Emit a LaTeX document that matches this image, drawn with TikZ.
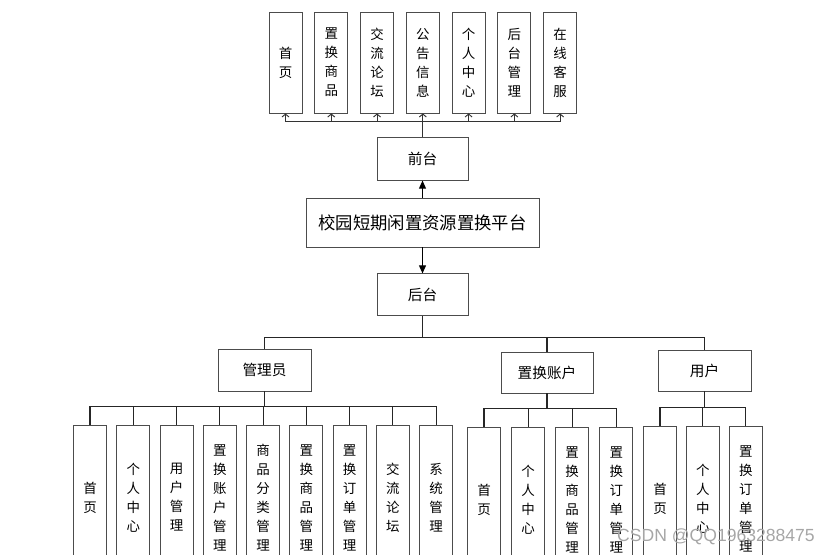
\documentclass[tikz,border=0pt]{standalone}
\usepackage{fontspec}
\setmainfont{Noto Sans CJK SC}
\newfontfamily\markfont{Liberation Sans}
\usetikzlibrary{arrows.meta, positioning}

\begin{document}
\begin{tikzpicture}[
        x=0.03cm, y=-0.03cm,
        box/.style={draw=black!70, line width=0.8pt, fill=white, align=center, minimum width=2.73cm, minimum height=1.29cm, font=\fontsize{12.5}{15}\selectfont},
        tallbox/.style={draw=black!70, line width=0.8pt, align=center, inner sep=0pt, minimum width=0.99cm, minimum height=3.03cm, font=\fontsize{11.5}{16.2}\selectfont},
        subbox/.style={tallbox, minimum height=4.35cm},
        arrow/.style={-{Triangle[length=7pt,width=6pt]}, line width=0.9pt},
        uparrow/.style={-{Straight Barb[length=2.5pt,width=6pt]}, line width=0.8pt, draw=black!80},
        line/.style={line width=0.9pt, draw=black!85}
    ]
        \useasboundingbox (0,0) rectangle (830,555);
        \clip (0,0) rectangle (830,555);

        % 平台、前台、后台
        \node[box, minimum width=6.99cm, minimum height=1.47cm, font=\fontsize{14.8}{17}\selectfont] (main) at (422.5,222.5) {校园短期闲置资源置换平台};
        \node[box, above=0.51cm of main] (front) {前台};
        \node[box, below=0.78cm of main, minimum height=1.26cm] (back) {后台};

        % 前台模块
        \node[tallbox] (t1) at (285.5,62.5) {首\\页};
        \node[tallbox, right=0.355cm of t1] (t2) {置\\换\\商\\品};
        \node[tallbox, right=0.355cm of t2] (t3) {交\\流\\论\\坛};
        \node[tallbox, right=0.355cm of t3] (t4) {公\\告\\信\\息};
        \node[tallbox, right=0.355cm of t4] (t5) {个\\人\\中\\心};
        \node[tallbox, right=0.355cm of t5] (t6) {后\\台\\管\\理};
        \node[tallbox, right=0.355cm of t6] (t7) {在\\线\\客\\服};

        % 后台角色
        \node[box, minimum width=2.79cm, minimum height=1.26cm] (admin) at (264.5,370) {管理员};
        \node[box, minimum width=2.76cm, minimum height=1.23cm] (acct) at (547,372.5) {置换账户};
        \node[box, minimum width=2.79cm, minimum height=1.23cm] (user) at (704.5,370.5) {用户};

        % 管理员模块
        \node[subbox] (a1) at (90,497.5) {首\\页};
        \node[subbox, right=0.28cm of a1] (a2) {个\\人\\中\\心};
        \node[subbox, right=0.28cm of a2] (a3) {用\\户\\管\\理};
        \node[subbox, right=0.28cm of a3] (a4) {置\\换\\账\\户\\管\\理};
        \node[subbox, right=0.28cm of a4] (a5) {商\\品\\分\\类\\管\\理};
        \node[subbox, right=0.28cm of a5] (a6) {置\\换\\商\\品\\管\\理};
        \node[subbox, right=0.28cm of a6] (a7) {置\\换\\订\\单\\管\\理};
        \node[subbox, right=0.28cm of a7] (a8) {交\\流\\论\\坛};
        \node[subbox, right=0.28cm of a8] (a9) {系\\统\\管\\理};

        % 置换账户模块
        \node[subbox] (b1) at (484,499.5) {首\\页};
        \node[subbox, right=0.305cm of b1] (b2) {个\\人\\中\\心};
        \node[subbox, right=0.305cm of b2] (b3) {置\\换\\商\\品\\管\\理};
        \node[subbox, right=0.305cm of b3] (b4) {置\\换\\订\\单\\管\\理};

        % 用户模块
        \node[subbox] (c1) at (660,498.5) {首\\页};
        \node[subbox, right=0.27cm of c1] (c2) {个\\人\\中\\心};
        \node[subbox, right=0.27cm of c2] (c3) {置\\换\\订\\单\\管\\理};

        \draw[arrow] (main) -- (front);
        \draw[arrow] (main) -- (back);
        \foreach \i in {1,...,7}
            \draw[uparrow] (front.north) -- ++(0,-15) -| (t\i.south);
        \draw[line] (back.south) -- ++(0,21) -| (admin.north);
        \draw[line] (back.south) -- ++(0,21) -| (acct.north);
        \draw[line] (back.south) -- ++(0,21) -| (user.north);
        \foreach \i in {1,...,9}
            \draw[line] (admin.south) -- ++(0,15) -| (a\i.north);
        \foreach \i in {1,...,4}
            \draw[line] (acct.south) -- ++(0,15) -| (b\i.north);
        \foreach \i in {1,...,3}
            \draw[line] (user.south) -- ++(0,16) -| (c\i.north);

        \node[text=black!35, font=\markfont\fontsize{15}{15}\selectfont] (mark) at (716,537) {CSDN @QQ1963288475};
    \end{tikzpicture}
\end{document}
